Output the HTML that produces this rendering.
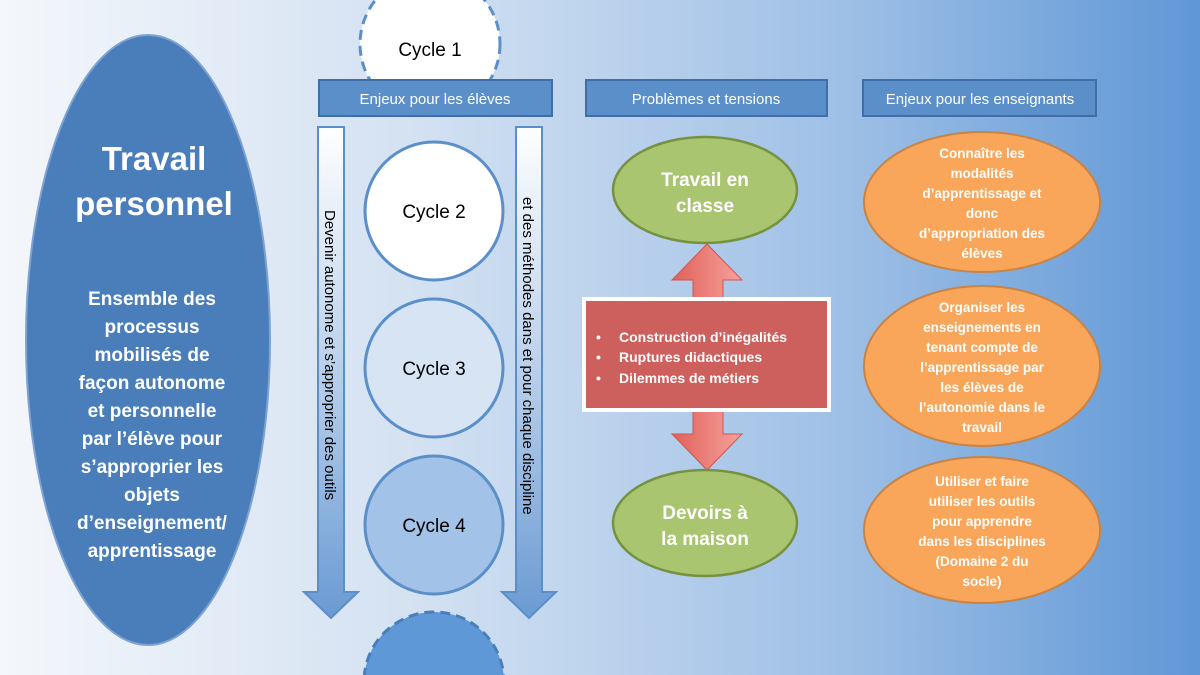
<!DOCTYPE html>
<html><head><meta charset="utf-8"><style>
html,body{margin:0;padding:0;width:1200px;height:675px;overflow:hidden}
svg{display:block}
text{font-family:"Liberation Sans",sans-serif}
</style></head><body>
<svg width="1200" height="675" viewBox="0 0 1200 675" xmlns="http://www.w3.org/2000/svg">
<defs>
<linearGradient id="bg" x1="0" y1="0" x2="1" y2="0">
<stop offset="0" stop-color="#f4f7fb"/><stop offset="0.35" stop-color="#d3e1f2"/><stop offset="0.7" stop-color="#9fc0e6"/><stop offset="1" stop-color="#5f97d6"/></linearGradient>
<linearGradient id="arr" x1="0" y1="0" x2="0" y2="1">
<stop offset="0" stop-color="#ffffff"/><stop offset="0.5" stop-color="#b8cfea"/><stop offset="1" stop-color="#6a9ad3"/></linearGradient>
<linearGradient id="red" x1="0" y1="0" x2="1" y2="0">
<stop offset="0" stop-color="#e0605a"/><stop offset="1" stop-color="#f7a19b"/></linearGradient>
</defs>
<rect width="1200" height="675" fill="url(#bg)"/>
<ellipse cx="148" cy="340" rx="122" ry="305" fill="#4a7ebb" stroke="#7ea3d2" stroke-width="2"/>
<text x="154" y="170" font-size="33" font-weight="bold" fill="#fff" text-anchor="middle">Travail</text>
<text x="154" y="215" font-size="33" font-weight="bold" fill="#fff" text-anchor="middle">personnel</text>
<g font-size="19" font-weight="bold" fill="#fff" text-anchor="middle">
<text x="152" y="305">Ensemble des</text>
<text x="152" y="333">processus</text>
<text x="152" y="361">mobilisés de</text>
<text x="152" y="389">façon autonome</text>
<text x="152" y="417">et personnelle</text>
<text x="152" y="445">par l’élève pour</text>
<text x="152" y="473">s’approprier les</text>
<text x="152" y="501">objets</text>
<text x="152" y="529">d’enseignement/</text>
<text x="152" y="557">apprentissage</text>
</g>
<circle cx="430" cy="44" r="70" fill="#fff" stroke="#5b8fc9" stroke-width="3" stroke-dasharray="10,6"/>
<text x="430" y="56" font-size="19" text-anchor="middle">Cycle 1</text>
<g font-size="15" fill="#fff" text-anchor="middle">
<rect x="319" y="80" width="233" height="36" fill="#5b8fc9" stroke="#3f6ea8" stroke-width="2"/>
<text x="435" y="104">Enjeux pour les élèves</text>
<rect x="586" y="80" width="241" height="36" fill="#5b8fc9" stroke="#3f6ea8" stroke-width="2"/>
<text x="706" y="104">Problèmes et tensions</text>
<rect x="863" y="80" width="233" height="36" fill="#5b8fc9" stroke="#3f6ea8" stroke-width="2"/>
<text x="980" y="104">Enjeux pour les enseignants</text>
</g>
<path d="M318,127 H344 V592 H358 L331,618 L304,592 H318 Z" fill="url(#arr)" stroke="#5b8fc9" stroke-width="2"/>
<path d="M516,127 H542 V592 H556 L529,618 L502,592 H516 Z" fill="url(#arr)" stroke="#5b8fc9" stroke-width="2"/>
<text transform="translate(325,210) rotate(90)" font-size="15">Devenir autonome et s’approprier des outils</text>
<text transform="translate(523,197) rotate(90)" font-size="15">et des méthodes dans et pour chaque discipline</text>
<circle cx="434" cy="211" r="69" fill="#fff" stroke="#5b8fc9" stroke-width="3"/>
<text x="434" y="218" font-size="19" text-anchor="middle">Cycle 2</text>
<circle cx="434" cy="368" r="69" fill="#d7e4f4" stroke="#5b8fc9" stroke-width="3"/>
<text x="434" y="375" font-size="19" text-anchor="middle">Cycle 3</text>
<circle cx="434" cy="525" r="69" fill="#a3c2e7" stroke="#5b8fc9" stroke-width="3"/>
<text x="434" y="532" font-size="19" text-anchor="middle">Cycle 4</text>
<circle cx="434" cy="682" r="70" fill="#5f98d6" stroke="#4a7ebb" stroke-width="3" stroke-dasharray="10,6"/>
<path d="M693,280 H672 L707,244 L742,280 H723 V434 H742 L707,470 L672,434 H693 Z" fill="url(#red)" stroke="#d05550" stroke-width="1"/>
<ellipse cx="705" cy="190" rx="92" ry="53" fill="#a9c56f" stroke="#76913f" stroke-width="2.5"/>
<text x="705" y="186" font-size="19" font-weight="bold" fill="#fff" text-anchor="middle">Travail en</text>
<text x="705" y="212" font-size="19" font-weight="bold" fill="#fff" text-anchor="middle">classe</text>
<ellipse cx="705" cy="523" rx="92" ry="53" fill="#a9c56f" stroke="#76913f" stroke-width="2.5"/>
<text x="705" y="519" font-size="19" font-weight="bold" fill="#fff" text-anchor="middle">Devoirs à</text>
<text x="705" y="545" font-size="19" font-weight="bold" fill="#fff" text-anchor="middle">la maison</text>
<rect x="584" y="299" width="245" height="111" fill="#cd5f5c" stroke="#fff" stroke-width="4"/>
<g font-size="14" font-weight="bold" fill="#fff">
<text x="596" y="342">•</text><text x="619" y="342">Construction  d’inégalités</text>
<text x="596" y="362">•</text><text x="619" y="362">Ruptures didactiques</text>
<text x="596" y="383">•</text><text x="619" y="383">Dilemmes de métiers</text>
</g>
<g fill="#f9a65a" stroke="#c98343" stroke-width="2">
<ellipse cx="982" cy="202" rx="118" ry="70"/>
<ellipse cx="982" cy="366" rx="118" ry="80"/>
<ellipse cx="982" cy="530" rx="118" ry="73"/>
</g>
<g font-size="13.5" font-weight="bold" fill="#fff" text-anchor="middle">
<text x="982" y="158">Connaître les</text>
<text x="982" y="178">modalités</text>
<text x="982" y="198">d’apprentissage et</text>
<text x="982" y="218">donc</text>
<text x="982" y="238">d’appropriation des</text>
<text x="982" y="258">élèves</text>
<text x="982" y="312">Organiser les</text>
<text x="982" y="332">enseignements en</text>
<text x="982" y="352">tenant compte de</text>
<text x="982" y="372">l’apprentissage par</text>
<text x="982" y="392">les élèves de</text>
<text x="982" y="412">l’autonomie dans le</text>
<text x="982" y="432">travail</text>
<text x="982" y="486">Utiliser et faire</text>
<text x="982" y="506">utiliser les outils</text>
<text x="982" y="526">pour apprendre</text>
<text x="982" y="546">dans les disciplines</text>
<text x="982" y="566">(Domaine 2 du</text>
<text x="982" y="586">socle)</text>
</g>
</svg>
</body></html>
